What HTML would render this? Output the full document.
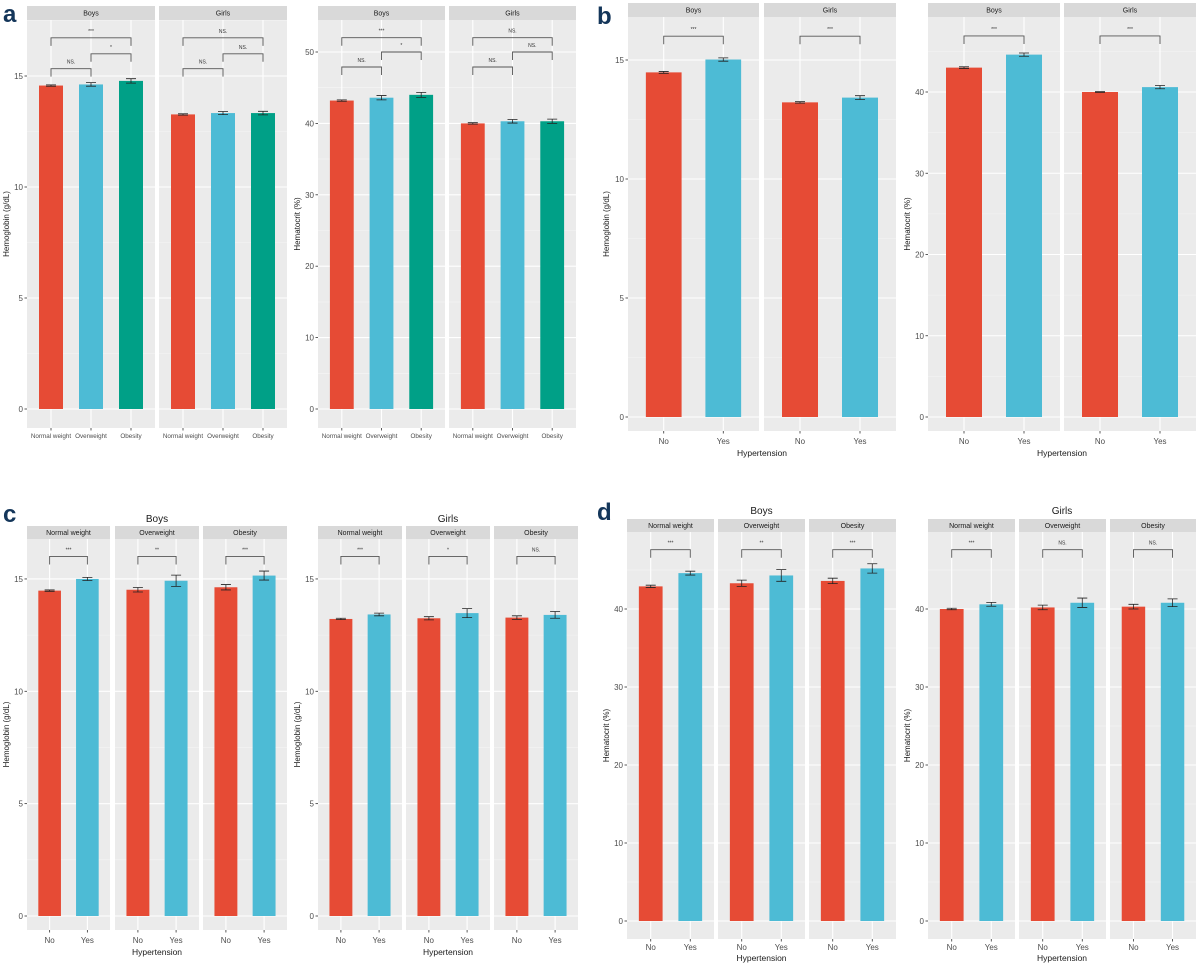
<!DOCTYPE html>
<html><head><meta charset="utf-8"><style>
body{margin:0;background:#fff;}
svg{display:block;font-family:"Liberation Sans",Arial,sans-serif;}
</style></head><body>
<svg id="fig" width="1200" height="966" viewBox="0 0 1200 966"></svg>
<script>
// ---- data ----
const weightCats = ["Normal weight","Overweight","Obesity"];
const htnCats = ["No","Yes"];
const sexes = ["Boys","Girls"];
const aHbMeans = [[14.57,14.62,14.78],[13.27,13.33,13.33]];
const aHbErr = [[0.03,0.08,0.1],[0.03,0.07,0.08]];
const aHctMeans = [[43.2,43.6,44.0],[40.0,40.3,40.3]];
const aHctErr = [[0.1,0.3,0.35],[0.1,0.25,0.3]];
const bHbMeans = [[14.48,15.02],[13.22,13.42]];
const bHbErr = [[0.04,0.07],[0.03,0.08]];
const bHctMeans = [[43.0,44.6],[40.0,40.6]];
const bHctErr = [[0.1,0.2],[0.05,0.2]];
const cBoysMeans = [[14.48,15.0],[14.52,14.92],[14.63,15.15]];
const cBoysErr = [[0.03,0.07],[0.1,0.25],[0.12,0.2]];
const cGirlsMeans = [[13.22,13.42],[13.25,13.48],[13.28,13.4]];
const cGirlsErr = [[0.03,0.06],[0.07,0.2],[0.08,0.15]];
const dBoysMeans = [[42.9,44.6],[43.3,44.3],[43.6,45.2]];
const dBoysErr = [[0.15,0.25],[0.4,0.75],[0.35,0.6]];
const dGirlsMeans = [[40.0,40.6],[40.2,40.8],[40.3,40.8]];
const dGirlsErr = [[0.1,0.25],[0.3,0.6],[0.3,0.5]];
const hbTicks = [0,5,10,15];
const hctTicksA = [0,10,20,30,40,50];
const hctTicks = [0,10,20,30,40];
const aSig = [["NS.","*","***"],["NS.","NS.","NS."]];
const bSig = ["***","***"];
const cBoysSig = ["***","**","***"];
const cGirlsSig = ["***","*","NS."];
const dBoysSig = ["***","**","***"];
const dGirlsSig = ["***","NS.","NS."];

const NS="http://www.w3.org/2000/svg";
const svg=document.getElementById('fig');
function el(tag,attrs,parent,text){const e=document.createElementNS(NS,tag);for(const k in attrs)e.setAttribute(k,attrs[k]);if(text!==undefined)e.textContent=text;(parent||svg).appendChild(e);return e;}
const cols3=["#E64B35","#4DBBD5","#00A087"], cols2=["#E64B35","#4DBBD5"];

// g: {panels:[[x0,x1]...], stripTop, plotTop, plotBottom, y0, ppu, ticks, cats, means[p][i], errs, colors, strips, brackets:[{a,b,level,label}] per panel, ylab, ylabX, xlabY}
function group(g,name){
  const G=el('g',{},svg);
  const yS=v=>g.y0-v*g.ppu;
  const maxV=(g.plotTop-g.y0)/-g.ppu;
  g.panels.forEach((pr,p)=>{
    const [x0,x1]=pr;const w=x1-x0;
    const P=el('g',{},G);
    el('rect',{x:x0,y:g.plotTop,width:w,height:g.plotBottom-g.plotTop,fill:'#EBEBEB'},P);
    // minor grid
    for(let i=0;i<g.ticks.length;i++){const m=g.ticks[i]+(g.ticks[1]-g.ticks[0])/2;if(m<maxV){el('line',{x1:x0,x2:x1,y1:yS(m),y2:yS(m),stroke:'#F5F5F5','stroke-width':0.6},P);}}
    g.ticks.forEach(t=>el('line',{x1:x0,x2:x1,y1:yS(t),y2:yS(t),stroke:'#fff','stroke-width':1.1},P));
    const n=g.cats.length;const unit=w/(n-1+1.2);
    const cx=i=>x0+unit*(0.6+i);
    g.cats.forEach((c,i)=>{el('line',{x1:cx(i),x2:cx(i),y1:g.plotTop,y2:g.plotBottom,stroke:'#fff','stroke-width':1.1},P);});
    // strip
    const S=el('rect',{x:x0,y:g.stripTop,width:w,height:g.plotTop-g.stripTop,fill:'#D9D9D9'},P);
    
    el('text',{x:x0+w/2,y:(g.stripTop+g.plotTop)/2+2.5,'text-anchor':'middle','font-size':7,fill:'#1A1A1A'},P,g.strips[p]);
    // bars
    g.cats.forEach((c,i)=>{
      const v=g.means[p][i],e=g.errs[p][i],bw=unit*0.6;
      const b=el('rect',{x:cx(i)-bw/2,y:yS(v),width:bw,height:yS(0)-yS(v),fill:g.colors[i]},P);
      
      const eb=el('path',{d:`M${cx(i)-5},${yS(v+e)}H${cx(i)+5}M${cx(i)},${yS(v+e)}V${yS(v-e)}M${cx(i)-5},${yS(v-e)}H${cx(i)+5}`,stroke:'#222','stroke-width':0.8,fill:'none'},P);
      
      el('line',{x1:cx(i),x2:cx(i),y1:g.plotBottom,y2:g.plotBottom+2.5,stroke:'#333','stroke-width':0.8},P);
      const tl=el('text',{x:cx(i),y:g.xlabY,'text-anchor':'middle','font-size':g.xfs,fill:'#4D4D4D'},P,c);
      
    });
    (g.brackets[p]||[]).forEach(br=>{
      const ya=yS(br.level),xa=cx(br.a),xb=cx(br.b);
      const bk=el('path',{d:`M${xa},${ya+8}V${ya}H${xb}V${ya+8}`,stroke:'#555','stroke-width':0.9,fill:'none'},P);
      
      el('text',{x:(xa+xb)/2,y:ya-5,'text-anchor':'middle','font-size':5,fill:'#333'},P,br.label);
    });
  });
  // y axis
  const x0=g.panels[0][0];
  g.ticks.forEach(t=>{el('line',{x1:x0-2.5,x2:x0,y1:yS(t),y2:yS(t),stroke:'#333','stroke-width':0.8},G);
    const tl=el('text',{x:x0-4,y:yS(t)+3,'text-anchor':'end','font-size':8,fill:'#4D4D4D'},G,t);
    });
  const yc=(g.plotTop+g.plotBottom)/2;
  const yt=el('text',{x:g.ylabX,y:yc,'text-anchor':'middle','font-size':8,fill:'#1A1A1A',transform:`rotate(-90 ${g.ylabX} ${yc})`},G,g.ylab);
  
  const xl=g.panels[0][0],xr=g.panels[g.panels.length-1][1];
  if(g.xtitle){const xt=el('text',{x:(xl+xr)/2,y:g.xtitleY,'text-anchor':'middle','font-size':8.5,fill:'#1A1A1A'},G,g.xtitle);
    }
  if(g.title){const tt=el('text',{x:(xl+xr)/2,y:g.titleY,'text-anchor':'middle','font-size':10,fill:'#1A1A1A'},G,g.title);
    }
}
const br3=(s,l)=>[{a:0,b:1,level:l[0],label:s[0]},{a:1,b:2,level:l[1],label:s[1]},{a:0,b:2,level:l[2],label:s[2]}];
// panel a
group({panels:[[27,155],[159,287]],stripTop:6,plotTop:20,plotBottom:428,y0:409,ppu:22.2,ticks:hbTicks,cats:weightCats,means:aHbMeans,errs:aHbErr,colors:cols3,strips:sexes,
  brackets:[br3(aSig[0],[15.33,16.0,16.72]),br3(aSig[1],[15.33,16.0,16.72])],ylab:"Hemoglobin (g/dL)",ylabX:9,xlabY:438,xfs:6.3},'panel-a-hemoglobin');
group({panels:[[318,445],[449,576]],stripTop:6,plotTop:20,plotBottom:428,y0:409,ppu:7.14,ticks:hctTicksA,cats:weightCats,means:aHctMeans,errs:aHctErr,colors:cols3,strips:sexes,
  brackets:[br3(aSig[0],[47.9,50.0,52.0]),br3(aSig[1],[47.9,50.0,52.0])],ylab:"Hematocrit (%)",ylabX:300,xlabY:438,xfs:6.3},'panel-a-hematocrit');
// panel b
const br2=(s,l)=>[{a:0,b:1,level:l,label:s}];
group({panels:[[628,759],[764,896]],stripTop:3,plotTop:17,plotBottom:431,y0:417,ppu:23.8,ticks:hbTicks,cats:htnCats,means:bHbMeans,errs:bHbErr,colors:cols2,strips:sexes,
  brackets:[br2(bSig[0],16.0),br2(bSig[1],16.0)],ylab:"Hemoglobin (g/dL)",ylabX:609,xlabY:444,xfs:8,xtitle:"Hypertension",xtitleY:456},'panel-b-hemoglobin');
group({panels:[[928,1060],[1064,1196]],stripTop:3,plotTop:17,plotBottom:431,y0:417,ppu:8.125,ticks:hctTicks,cats:htnCats,means:bHctMeans,errs:bHctErr,colors:cols2,strips:sexes,
  brackets:[br2(bSig[0],46.9),br2(bSig[1],46.9)],ylab:"Hematocrit (%)",ylabX:910,xlabY:444,xfs:8,xtitle:"Hypertension",xtitleY:456},'panel-b-hematocrit');
// panel c
group({panels:[[27,110],[115,199],[203,287]],stripTop:526,plotTop:539,plotBottom:930,y0:916,ppu:22.47,ticks:hbTicks,cats:htnCats,means:cBoysMeans,errs:cBoysErr,colors:cols2,strips:weightCats,
  brackets:cBoysSig.map(s=>br2(s,16.0)),ylab:"Hemoglobin (g/dL)",ylabX:9,xlabY:943,xfs:8,xtitle:"Hypertension",xtitleY:955,title:"Boys",titleY:522},'panel-c-boys');
group({panels:[[318,402],[406,490],[494,578]],stripTop:526,plotTop:539,plotBottom:930,y0:916,ppu:22.47,ticks:hbTicks,cats:htnCats,means:cGirlsMeans,errs:cGirlsErr,colors:cols2,strips:weightCats,
  brackets:cGirlsSig.map(s=>br2(s,16.0)),ylab:"Hemoglobin (g/dL)",ylabX:300,xlabY:943,xfs:8,xtitle:"Hypertension",xtitleY:955,title:"Girls",titleY:522},'panel-c-girls');
// panel d
group({panels:[[627,714],[718,805],[809,896]],stripTop:519,plotTop:532,plotBottom:939,y0:921,ppu:7.8,ticks:hctTicks,cats:htnCats,means:dBoysMeans,errs:dBoysErr,colors:cols2,strips:weightCats,
  brackets:dBoysSig.map(s=>br2(s,47.6)),ylab:"Hematocrit (%)",ylabX:609,xlabY:950,xfs:8,xtitle:"Hypertension",xtitleY:961,title:"Boys",titleY:514},'panel-d-boys');
group({panels:[[928,1015],[1019,1106],[1110,1196]],stripTop:519,plotTop:532,plotBottom:939,y0:921,ppu:7.8,ticks:hctTicks,cats:htnCats,means:dGirlsMeans,errs:dGirlsErr,colors:cols2,strips:weightCats,
  brackets:dGirlsSig.map(s=>br2(s,47.6)),ylab:"Hematocrit (%)",ylabX:910,xlabY:950,xfs:8,xtitle:"Hypertension",xtitleY:961,title:"Girls",titleY:514},'panel-d-girls');
// panel letters
[["a",3,22],["b",597,24],["c",3,522],["d",597,520]].forEach(([t,x,y])=>{
  const l=el('text',{x:x,y:y,'font-size':24,'font-weight':'bold',fill:'#14365A'},svg,t);
  
  
});
</script>
</body></html>
